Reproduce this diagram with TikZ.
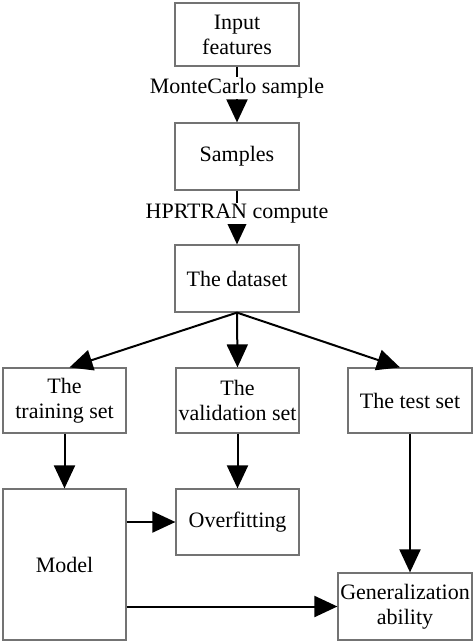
\documentclass[tikz,border=0pt]{standalone}
\usepackage{fontspec}
\setmainfont{Liberation Serif}
\usetikzlibrary{arrows.meta}
\begin{document}
\begin{tikzpicture}[x=1pt,y=-1pt,
  box/.style={draw=black!55,line width=1.2pt,fill=white,align=center,inner sep=1pt,
    font=\fontsize{22}{25}\selectfont},
  arr/.style={line width=2pt,-{Triangle[length=23pt,width=21pt]}},
  lab/.style={fill=white,inner sep=1pt,font=\fontsize{22}{25}\selectfont}]
\useasboundingbox (0,0) rectangle (474,643);
\node[box,minimum width=124pt,minimum height=63pt] (in) at (237,34.5) {Input\\features};
\node[box,minimum width=124pt,minimum height=67pt] (samp) at (237,156.5) {Samples};
\node[box,minimum width=124pt,minimum height=67pt] (data) at (237,278.5) {The dataset};
\node[box,minimum width=123pt,minimum height=65pt] (train) at (64.5,400.5) {The\\training set};
\node[box,minimum width=123pt,minimum height=65pt] (val) at (237.5,400.5) {The\\validation set};
\node[box,minimum width=124pt,minimum height=65pt] (test) at (410,400.5) {The test set};
\node[box,minimum width=123pt,minimum height=151pt] (model) at (64.5,564.5) {Model};
\node[box,minimum width=123pt,minimum height=66pt] (over) at (237.5,522) {Overfitting};
\node[box,minimum width=134pt,minimum height=67pt] (gen) at (405,606.5) {Generalization\\ability};
\draw[arr] (in.south) -- node[lab,pos=0.39] (l1) {MonteCarlo sample} (samp.north);
\draw[arr] (samp.south) -- node[lab,pos=0.42] (l2) {HPRTRAN compute} (data.north);
\draw[arr] (data.south) -- ([xshift=5pt]train.north);
\draw[arr] (data.south) -- (val.north);
\draw[arr] (data.south) -- ([xshift=-10pt]test.north);
\draw[arr] (train.south) -- (model.north);
\draw[arr] (val.south) -- (over.north);
\draw[arr] (test.south) -- (test.south |- gen.north);
\draw[arr] (over.west -| model.east) -- (over.west);
\draw[arr] (gen.west -| model.east) -- (gen.west);
\end{tikzpicture}
\end{document}
